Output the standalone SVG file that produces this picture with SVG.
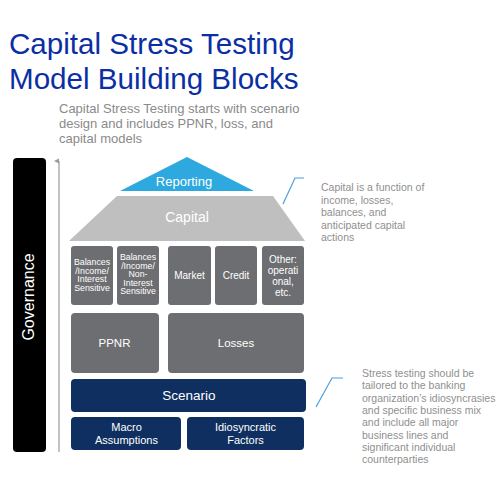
<svg xmlns="http://www.w3.org/2000/svg" width="498" height="501" viewBox="0 0 498 501">
<style>
text{font-family:"Liberation Sans",Arial,sans-serif}
.title{fill:#0b2fa3;font-size:29.6px}
.sub{fill:#8a8a8a;font-size:13px}
.note{fill:#8f8f8f;font-size:10.5px}
.w{fill:#ffffff;text-anchor:middle}
.dk{fill:#6d6e71}
.nv{fill:#0e2f5f}
.sm{font-size:8.8px}
.md{font-size:10px}
.lg{font-size:11.5px}
.call{fill:none;stroke:#4b9ee0;stroke-width:1.2}
</style>
<defs>
<marker id="ah" markerWidth="6" markerHeight="6" refX="3" refY="5" orient="auto-start-reverse" markerUnits="userSpaceOnUse">
<path d="M0.5,5 L3,0 L5.5,5 Z" fill="#9a9a9a"/>
</marker>
</defs>
<rect width="498" height="501" fill="#ffffff"/>
<text class="title" x="9" y="54">Capital Stress Testing</text>
<text class="title" x="9" y="89">Model Building Blocks</text>
<text class="sub"><tspan x="59" y="113">Capital Stress Testing starts with scenario</tspan><tspan x="59" y="128">design and includes PPNR, loss, and</tspan><tspan x="59" y="143">capital models</tspan></text>

<g id="governance">
<rect x="13" y="158" width="33" height="294" rx="4" fill="#000000"/>
<text class="w" transform="translate(34,297) rotate(-90)" font-size="16">Governance</text>
</g>

<g id="connectors">
<line x1="59" y1="452" x2="59" y2="161" stroke="#9a9a9a" stroke-width="1.2" marker-end="url(#ah)"/>
<polyline class="call" points="283,204 295,178 304,178"/>
<polyline class="call" points="316,407 332,378 343,378"/>
</g>

<g id="reporting">
<polygon points="187,157 254,191 120,191" fill="#2ea9df"/>
<text class="w" x="184" y="186" font-size="13">Reporting</text>
</g>

<g id="capital">
<polygon points="117,196 273,196 305,241 69,241" fill="#bfbfbf"/>
<text class="w" x="187" y="222" font-size="14">Capital</text>
</g>

<g id="bal-int">
<rect class="dk" x="71" y="246" width="42" height="59" rx="3"/>
<text class="w sm"><tspan x="92" y="265">Balances</tspan><tspan x="92" y="273.5">/Income/</tspan><tspan x="92" y="282">Interest</tspan><tspan x="92" y="290.5">Sensitive</tspan></text>
</g>
<g id="bal-nonint">
<rect class="dk" x="117" y="246" width="42" height="59" rx="3"/>
<text class="w sm"><tspan x="138" y="260">Balances</tspan><tspan x="138" y="268.5">/Income/</tspan><tspan x="138" y="277">Non-</tspan><tspan x="138" y="285.5">Interest</tspan><tspan x="138" y="294">Sensitive</tspan></text>
</g>
<g id="market">
<rect class="dk" x="168" y="246" width="43" height="59" rx="3"/>
<text class="w md" x="189.5" y="279">Market</text>
</g>
<g id="credit">
<rect class="dk" x="215" y="246" width="42" height="59" rx="3"/>
<text class="w md" x="236" y="279">Credit</text>
</g>
<g id="other">
<rect class="dk" x="262" y="246" width="42" height="59" rx="3"/>
<text class="w" font-size="10"><tspan x="283" y="263">Other:</tspan><tspan x="283" y="274">operati</tspan><tspan x="283" y="285">onal,</tspan><tspan x="283" y="296">etc.</tspan></text>
</g>

<g id="ppnr">
<rect class="dk" x="71" y="313" width="88" height="60" rx="4"/>
<text class="w lg" x="114.5" y="347">PPNR</text>
</g>
<g id="losses">
<rect class="dk" x="168" y="313" width="136" height="60" rx="4"/>
<text class="w lg" x="236" y="347">Losses</text>
</g>

<g id="scenario">
<rect class="nv" x="71" y="379" width="235" height="33" rx="4"/>
<text class="w" x="189" y="400" font-size="13.5">Scenario</text>
</g>
<g id="macro">
<rect class="nv" x="71" y="417" width="110" height="33" rx="4"/>
<text class="w" font-size="11"><tspan x="126.5" y="431">Macro</tspan><tspan x="126.5" y="444">Assumptions</tspan></text>
</g>
<g id="idio">
<rect class="nv" x="187" y="417" width="117" height="33" rx="4"/>
<text class="w" font-size="11"><tspan x="245.5" y="431">Idiosyncratic</tspan><tspan x="245.5" y="444">Factors</tspan></text>
</g>

<text class="note"><tspan x="321" y="191">Capital is a function of</tspan><tspan x="321" y="203.5">income, losses,</tspan><tspan x="321" y="216">balances, and</tspan><tspan x="321" y="228.5">anticipated capital</tspan><tspan x="321" y="241">actions</tspan></text>
<text class="note"><tspan x="362" y="377">Stress testing should be</tspan><tspan x="362" y="389.3">tailored to the banking</tspan><tspan x="362" y="401.6">organization’s idiosyncrasies</tspan><tspan x="362" y="413.9">and specific business mix</tspan><tspan x="362" y="426.2">and include all major</tspan><tspan x="362" y="438.5">business lines and</tspan><tspan x="362" y="450.8">significant individual</tspan><tspan x="362" y="463.1">counterparties</tspan></text>
</svg>
